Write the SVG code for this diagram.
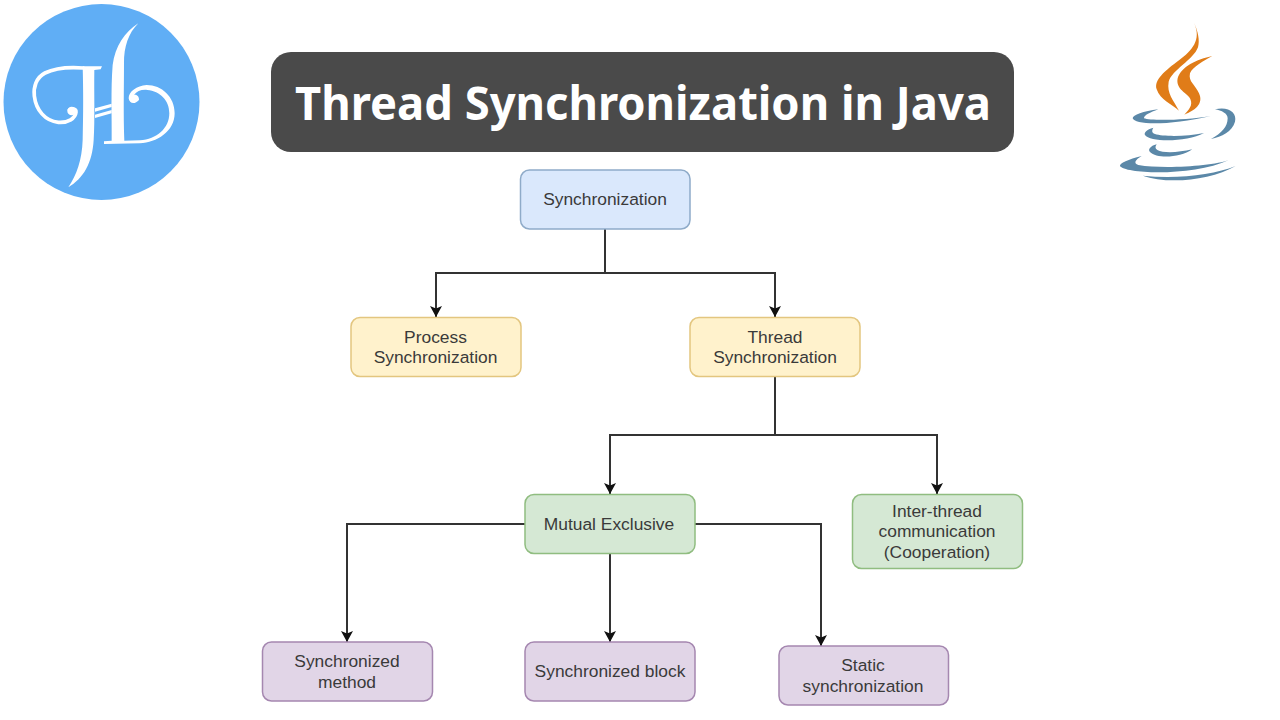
<svg xmlns="http://www.w3.org/2000/svg" width="1280" height="720" viewBox="0 0 1280 720">
<style>
.n{stroke-width:1.5}
.b{fill:#dae8fc;stroke:#8fabc9}
.y{fill:#fff2cc;stroke:#e3c67f}
.g{fill:#d5e8d4;stroke:#90bd80}
.p{fill:#e1d5e7;stroke:#a587b0}
text.t{font-family:"Liberation Sans",Arial,sans-serif;font-size:17.400px;fill:#3a3a3a;text-anchor:middle}
.c{fill:none;stroke:#333;stroke-width:2}
.w{fill:#fff}
.sw{fill:none;stroke:#fff;stroke-linecap:round}
.jb{fill:#5b88a8}
.jo{fill:#e07c18}
</style>
<defs>
<marker id="a" markerUnits="userSpaceOnUse" markerWidth="12" markerHeight="13" refX="11" refY="6" orient="auto"><path d="M0 0L11 6L0 12L2.500 6Z" fill="#111"/></marker>
</defs>
<rect width="1280" height="720" fill="#fff"/>
<g id="logo-left">
<circle cx="101.500" cy="102" r="98" fill="#60aef5"/>
<g transform="scale(.3333)">
<path class="w" d="M248 199L306 199L302 208L283 210C282 280 285 360 281 420C277 490 250 535 205 562C230 525 246 480 248 420C250 340 250 270 248 199Z"/>
<path class="sw" stroke-width="11" d="M250 204C210 201 165 204 135 219C108 233 100 262 103 288C108 330 135 363 175 367C205 369 226 355 228 337C229 326 216 324 208 330"/>
<circle class="w" cx="215" cy="333" r="13"/>
<path class="w" d="M415 70C375 95 345 140 338 195C332 270 336 350 335 422L312 424L312 432L420 430C470 428 524 395 524 340C524 290 485 255 440 255C410 257 386 275 386 295C388 312 405 314 417 300C418 290 410 282 402 285C410 274 425 268 442 270C480 274 508 300 508 340C508 385 470 418 420 421L373 422C370 340 372 260 372 190C372 140 385 100 415 70Z"/>
<path class="w" d="M285 325L335 311L335 321L285 335ZM285 344L335 330L335 340L285 354Z"/>
</g>
</g>
<g id="logo-java" transform="translate(1100,10) scale(.3333)">
<path class="jo" d="M282 38C306 90 275 122 238 150C195 182 161 210 170 238C181 270 215 282 237 302C220 270 200 250 206 215C216 180 280 150 294 112C300 90 294 65 282 38Z"/>
<path class="jo" d="M337 138C290 148 243 170 233 205C226 238 263 250 271 267C280 287 265 300 253 314C284 302 312 282 297 250C287 226 264 215 270 190C278 170 312 152 337 138Z"/>
<path class="jb" d="M175 298C130 304 98 315 98 325C103 345 210 347 332 318C250 332 150 332 132 325C132 315 150 308 175 298Z"/>
<path class="jb" d="M345 298C385 288 412 308 405 335C397 365 365 380 333 387C365 370 383 350 383 325C383 310 365 302 345 298Z"/>
<path class="jb" d="M160 353C140 358 131 368 135 375C150 397 260 397 312 369C260 380 190 380 165 372C155 368 155 362 160 353Z"/>
<path class="jb" d="M170 403C150 408 143 420 150 426C170 447 240 444 277 418C235 428 190 430 172 420C165 415 165 410 170 403Z"/>
<path class="jb" d="M125 438C85 448 58 460 60 468C75 492 280 500 387 450C340 468 190 478 115 465C100 460 105 450 125 438Z"/>
<path class="jb" d="M128 497C200 523 330 513 407 468C340 495 230 508 128 497Z"/>
</g>
<g id="title">
<rect x="271" y="52" width="743" height="100" rx="20" fill="#4a4a4a"/>
<text x="643" y="120" text-anchor="middle" font-family="'Noto Sans','Open Sans',sans-serif" font-weight="700" font-size="47" fill="#fff" textLength="696" lengthAdjust="spacingAndGlyphs">Thread Synchronization in Java</text>
</g>
<g id="connectors">
<path class="c" d="M605 229V273"/>
<path class="c" d="M605 273H436V317" marker-end="url(#a)"/>
<path class="c" d="M605 273H775V317" marker-end="url(#a)"/>
<path class="c" d="M775 376V435"/>
<path class="c" d="M775 435H610V494" marker-end="url(#a)"/>
<path class="c" d="M775 435H937V494" marker-end="url(#a)"/>
<path class="c" d="M525 524H347V642" marker-end="url(#a)"/>
<path class="c" d="M610 553V642" marker-end="url(#a)"/>
<path class="c" d="M695 524H821V646" marker-end="url(#a)"/>
</g>
<g id="n-sync"><rect class="n b" x="520.500" y="170" width="169.500" height="59" rx="9"/><text class="t" x="605" y="205">Synchronization</text></g>
<g id="n-process"><rect class="n y" x="351" y="317.500" width="170" height="59" rx="9"/><text class="t" x="435.500" y="343">Process</text><text class="t" x="435.500" y="363">Synchronization</text></g>
<g id="n-thread"><rect class="n y" x="690" y="317.500" width="170" height="59" rx="9"/><text class="t" x="775" y="343">Thread</text><text class="t" x="775" y="363">Synchronization</text></g>
<g id="n-mutual"><rect class="n g" x="525" y="494.500" width="170" height="59" rx="9"/><text class="t" x="609" y="530">Mutual Exclusive</text></g>
<g id="n-inter"><rect class="n g" x="852.500" y="494.500" width="170" height="74" rx="9"/><text class="t" x="937" y="517">Inter-thread</text><text class="t" x="937" y="537">communication</text><text class="t" x="937" y="558">(Cooperation)</text></g>
<g id="n-method"><rect class="n p" x="262.500" y="642" width="170" height="59" rx="9"/><text class="t" x="347" y="667">Synchronized</text><text class="t" x="347" y="688">method</text></g>
<g id="n-block"><rect class="n p" x="525" y="642" width="170" height="59" rx="9"/><text class="t" x="610" y="677">Synchronized block</text></g>
<g id="n-static"><rect class="n p" x="779" y="646" width="169.500" height="59" rx="9"/><text class="t" x="863" y="671">Static</text><text class="t" x="863" y="692">synchronization</text></g>
</svg>
